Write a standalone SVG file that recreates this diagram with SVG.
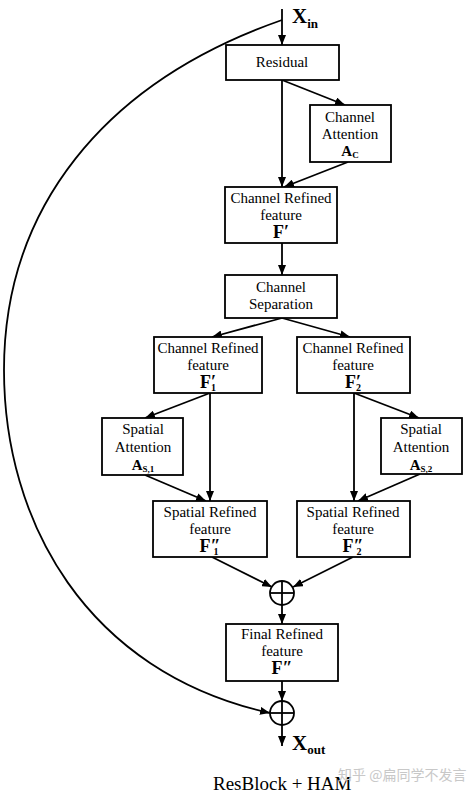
<svg xmlns="http://www.w3.org/2000/svg" width="471" height="797" viewBox="0 0 471 797">
<style>
  .box{fill:#fff;stroke:#000;stroke-width:1.8}
  .t{font-family:"Liberation Serif","Times New Roman",serif;font-size:15px;fill:#000;text-anchor:middle}
  .m{font-family:"Liberation Serif","Times New Roman",serif;font-size:18px;font-weight:bold;fill:#000;text-anchor:middle}
  .a{font-family:"Liberation Serif","Times New Roman",serif;font-size:15px;font-weight:bold;fill:#000;text-anchor:middle}
  .s{font-size:9px}
  .c{fill:none;stroke:#000;stroke-width:1.8}
  .big{font-family:"Liberation Serif","Times New Roman",serif;font-weight:bold;fill:#000}
</style>
<defs>
  <marker id="ah" viewBox="0 0 10 8" refX="10" refY="4" markerWidth="10" markerHeight="8" markerUnits="userSpaceOnUse" orient="auto">
    <path d="M0,0 L10,4 L0,8 z" fill="#000"/>
  </marker>
</defs>

<g id="connectors" class="c">
  <line x1="282" y1="9" x2="282" y2="45" marker-end="url(#ah)"/>
  <line x1="282" y1="80" x2="345" y2="105" marker-end="url(#ah)"/>
  <line x1="282" y1="80" x2="282" y2="187" marker-end="url(#ah)"/>
  <line x1="348" y1="162" x2="284" y2="187" marker-end="url(#ah)"/>
  <line x1="282" y1="243" x2="282" y2="275" marker-end="url(#ah)"/>
  <line x1="282" y1="318" x2="212" y2="337" marker-end="url(#ah)"/>
  <line x1="282" y1="318" x2="350" y2="337" marker-end="url(#ah)"/>
  <line x1="210" y1="393" x2="145" y2="418" marker-end="url(#ah)"/>
  <line x1="210" y1="393" x2="210" y2="501" marker-end="url(#ah)"/>
  <line x1="354" y1="393" x2="419" y2="418" marker-end="url(#ah)"/>
  <line x1="354" y1="393" x2="354" y2="501" marker-end="url(#ah)"/>
  <line x1="145" y1="475" x2="206" y2="501" marker-end="url(#ah)"/>
  <line x1="420" y1="474" x2="358" y2="501" marker-end="url(#ah)"/>
  <line x1="212" y1="557" x2="272" y2="587" marker-end="url(#ah)"/>
  <line x1="353" y1="557" x2="293" y2="587" marker-end="url(#ah)"/>
  <line x1="282" y1="605" x2="282" y2="624" marker-end="url(#ah)"/>
  <line x1="282" y1="681" x2="282" y2="701" marker-end="url(#ah)"/>
  <line x1="282" y1="725" x2="282" y2="746" marker-end="url(#ah)"/>
  <path d="M282,20 C102,83 4,210 4,370 C4,520 85,672 270,713" marker-end="url(#ah)"/>
</g>

<g id="xin">
  <text class="big" x="292" y="23" font-size="21">X<tspan font-size="13" dy="5">in</tspan></text>
</g>

<g id="residual">
  <rect class="box" x="226" y="45" width="113" height="35"/>
  <text class="t" x="282" y="67">Residual</text>
</g>

<g id="channel-attention">
  <rect class="box" x="310" y="105" width="81" height="57"/>
  <text class="t" x="350" y="122">Channel</text>
  <text class="t" x="350" y="139">Attention</text>
  <text class="a" x="350" y="156">A<tspan class="s" dy="2">C</tspan></text>
</g>

<g id="channel-refined">
  <rect class="box" x="225" y="187" width="112" height="56"/>
  <text class="t" x="281" y="203">Channel Refined</text>
  <text class="t" x="281" y="220">feature</text>
  <text class="m" x="281" y="238">F′</text>
</g>

<g id="channel-separation">
  <rect class="box" x="225" y="275" width="112" height="43"/>
  <text class="t" x="281" y="292">Channel</text>
  <text class="t" x="281" y="309">Separation</text>
</g>

<g id="f1p">
  <rect class="box" x="154" y="337" width="108" height="56"/>
  <text class="t" x="208" y="353">Channel Refined</text>
  <text class="t" x="208" y="370">feature</text>
  <text class="m" x="208" y="388">F′<tspan font-size="10" dx="-5" dy="3">1</tspan></text>
</g>

<g id="f2p">
  <rect class="box" x="297" y="337" width="113" height="56"/>
  <text class="t" x="353" y="353">Channel Refined</text>
  <text class="t" x="353" y="370">feature</text>
  <text class="m" x="353" y="388">F′<tspan font-size="10" dx="-5" dy="3">2</tspan></text>
</g>

<g id="sa1">
  <rect class="box" x="102" y="418" width="81" height="57"/>
  <text class="t" x="143" y="434">Spatial</text>
  <text class="t" x="143" y="452">Attention</text>
  <text class="a" x="143" y="470">A<tspan class="s" dy="2">S,1</tspan></text>
</g>

<g id="sa2">
  <rect class="box" x="381" y="418" width="81" height="56"/>
  <text class="t" x="421" y="434">Spatial</text>
  <text class="t" x="421" y="452">Attention</text>
  <text class="a" x="421" y="470">A<tspan class="s" dy="2">S,2</tspan></text>
</g>

<g id="f1pp">
  <rect class="box" x="153" y="501" width="114" height="56"/>
  <text class="t" x="210" y="517">Spatial Refined</text>
  <text class="t" x="210" y="534">feature</text>
  <text class="m" x="210" y="552">F″<tspan font-size="10" dx="-7" dy="3">1</tspan></text>
</g>

<g id="f2pp">
  <rect class="box" x="297" y="501" width="113" height="56"/>
  <text class="t" x="353" y="517">Spatial Refined</text>
  <text class="t" x="353" y="534">feature</text>
  <text class="m" x="353" y="552">F″<tspan font-size="10" dx="-7" dy="3">2</tspan></text>
</g>

<g id="plus1" class="c">
  <circle cx="282" cy="593" r="12"/>
  <line x1="270" y1="593" x2="294" y2="593"/>
  <line x1="282" y1="581" x2="282" y2="605"/>
</g>

<g id="final-refined">
  <rect class="box" x="226" y="624" width="112" height="57"/>
  <text class="t" x="282" y="639">Final Refined</text>
  <text class="t" x="282" y="656">feature</text>
  <text class="m" x="282" y="674">F″</text>
</g>

<g id="plus2" class="c">
  <circle cx="282" cy="713" r="12"/>
  <line x1="270" y1="713" x2="294" y2="713"/>
  <line x1="282" y1="701" x2="282" y2="725"/>
</g>

<g id="xout">
  <text class="big" x="292" y="750" font-size="21">X<tspan font-size="13" dy="4">out</tspan></text>
</g>

<text x="213" y="790" font-family="'Liberation Serif','Times New Roman',serif" font-size="19" fill="#000">ResBlock + HAM</text>
<text x="338" y="780" font-family="'Noto Sans CJK SC','Noto Sans',sans-serif" font-size="14" fill="#c8c8c8">知乎 @扁同学不发言</text>
</svg>
